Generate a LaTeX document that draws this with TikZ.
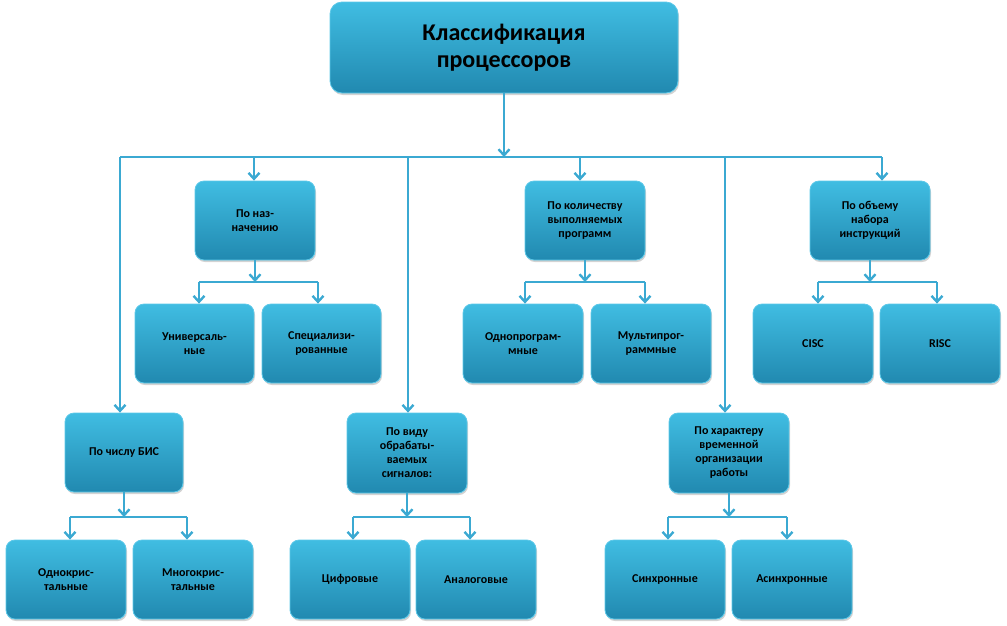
\documentclass[tikz,border=0pt]{standalone}
\usepackage{fontspec}
\setmainfont{Carlito}
\usetikzlibrary{arrows.meta,shadows}
\tikzset{
 box/.style={rounded corners=9pt, top color=cyan0, bottom color=cyan1, draw=cyan2, line width=0.8pt,
   align=center, font=\bfseries\fontsize{12}{14}\selectfont, inner sep=2pt,
   drop shadow={shadow xshift=1pt,shadow yshift=-2pt,opacity=0.35}},
 conn/.style={draw=linec, line width=2.6pt},
 arr/.style={conn, -{Straight Barb[length=6pt,width=11pt,line width=2.4pt]}}
}
\definecolor{cyan0}{HTML}{40BDE2}
\definecolor{cyan1}{HTML}{2189B0}
\definecolor{cyan2}{HTML}{5CC8E8}
\definecolor{linec}{HTML}{3BA9D2}
\newcommand{\bx}[6]{\node[box, minimum width=#4pt-#2pt, minimum height=#5pt-#3pt] (#1) at ({(#2+#4)/2},{(#3+#5)/2}) {#6};}
\begin{document}
\begin{tikzpicture}[x=1pt,y=-1pt]
\useasboundingbox (0,0) rectangle (1007,625);
\node[box, rounded corners=12pt, minimum width=348pt, minimum height=91pt, font=\bfseries\fontsize{24}{27}\selectfont] (top) at (504,47.5) {Классификация\\процессоров};
\bx{bis}{65}{413}{183}{492}{По числу БИС}
\bx{naz}{195}{181}{315}{260}{По наз-\\начению}
\bx{vid}{347}{413}{467}{493}{По виду\\обрабаты-\\ваемых\\сигналов:}
\bx{kol}{525}{181}{645}{260}{По количеству\\выполняемых\\программ}
\bx{har}{669}{413}{789}{493}{По характеру\\временной\\организации\\работы}
\bx{obj}{810}{181}{930}{260}{По объему\\набора\\инструкций}
\bx{uni}{135}{304}{254}{383}{Универсаль-\\ные}
\bx{spe}{262}{304}{381}{383}{Специализи-\\рованные}
\bx{odp}{463}{304}{583}{383}{Однопрограм-\\мные}
\bx{mul}{591}{304}{711}{383}{Мультипрог-\\раммные}
\bx{cis}{753}{304}{873}{383}{CISC}
\bx{ris}{880}{304}{1000}{383}{RISC}
\bx{odk}{6}{540}{126}{619}{Однокрис-\\тальные}
\bx{mnk}{133}{540}{253}{619}{Многокрис-\\тальные}
\bx{cif}{290}{540}{410}{619}{Цифровые}
\bx{ana}{416}{540}{536}{619}{Аналоговые}
\bx{sin}{605}{540}{725}{619}{Синхронные}
\bx{asi}{732}{540}{852}{619}{Асинхронные}
% main
\coordinate (hb) at (504,157);
\draw[arr] (top.south) -- (hb);
\draw[conn] (120,157) -- (882,157);
\foreach \n/\x in {bis/120,naz/254,vid/408,kol/580,har/725,obj/882}{
  \draw[arr] (\x,157) -- (\x,0|-\n.north);
}
% sub-branches
\newcommand{\br}[6]{%
  \coordinate (b1) at (#3,#5); \coordinate (b2) at (#4,#5);
  \draw[arr] (#2.south) -- ([yshift=0pt]#2.south|-b1);
  \draw[conn] (b1) -- (b2);
  \draw[arr] (b1) -- (b1|-#6.north);
  \draw[arr] (b2) -- (b2|-#6.north);}
\br{}{naz}{199}{318}{282}{uni}
\br{}{kol}{525}{645}{282}{odp}
\br{}{obj}{818}{937}{282}{cis}
\br{}{bis}{70}{187}{517}{odk}
\br{}{vid}{353}{470}{517}{cif}
\br{}{har}{668}{787}{517}{sin}
\end{tikzpicture}
\end{document}
